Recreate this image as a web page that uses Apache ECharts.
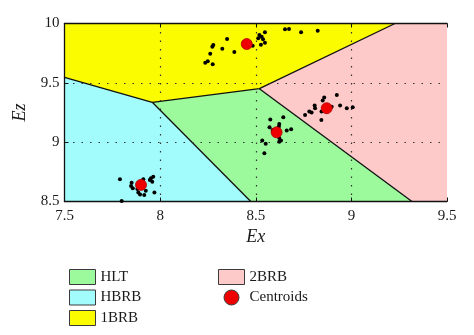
<!DOCTYPE html>
<html>
<head>
<meta charset="utf-8">
<script src="https://cdn.jsdelivr.net/npm/echarts@6/dist/echarts.min.js"></script>
<style>
html, body { margin: 0; padding: 0; background: #ffffff; }
#chart { width: 474px; height: 335px; }
</style>
</head>
<body>
<div id="chart"></div>
<script>
// Axis ranges and ticks
const xTicks = [7.5, 8, 8.5, 9, 9.5];
const yTicks = [8.5, 9, 9.5, 10];

// Decision regions (polygon vertices in Ex/Ez units)
const regionHLT  = [[7.959, 9.336], [8.519, 9.451], [9.317, 8.5], [8.474, 8.5]];
const regionHBRB = [[7.5, 9.547], [7.959, 9.336], [8.474, 8.5], [7.5, 8.5]];
const region1BRB = [[7.5, 10], [9.228, 10], [8.519, 9.451], [7.959, 9.336], [7.5, 9.547]];
const region2BRB = [[8.519, 9.451], [9.228, 10], [9.5, 10], [9.5, 8.5], [9.317, 8.5]];

// Region borders
const borderUpper = [[7.5, 9.547], [7.959, 9.336], [8.519, 9.451], [9.228, 10]];
const borderLeft  = [[7.959, 9.336], [8.474, 8.5]];
const borderRight = [[8.519, 9.451], [9.317, 8.5]];

// Measured samples
const samples1BRB = [
  [8.653, 9.951], [8.674, 9.954], [8.737, 9.926], [8.824, 9.939], [8.548, 9.926],
  [8.519, 9.903], [8.531, 9.889], [8.513, 9.875], [8.538, 9.867], [8.548, 9.838],
  [8.527, 9.821], [8.484, 9.813], [8.350, 9.869], [8.278, 9.819], [8.273, 9.805],
  [8.325, 9.788], [8.388, 9.760], [8.262, 9.746], [8.249, 9.682], [8.236, 9.670],
  [8.275, 9.656]
];
const samplesHBRB = [
  [7.790, 8.687], [7.799, 8.505], [7.851, 8.659], [7.848, 8.631], [7.857, 8.612],
  [7.881, 8.606], [7.886, 8.575], [7.895, 8.558], [7.917, 8.555], [7.925, 8.591],
  [7.952, 8.696], [7.964, 8.709], [7.959, 8.667], [7.946, 8.682], [7.970, 8.575],
  [7.912, 8.687]
];
const samplesHLT = [
  [8.576, 9.191], [8.644, 9.210], [8.623, 9.153], [8.621, 9.132], [8.572, 9.126],
  [8.588, 9.103], [8.662, 9.099], [8.685, 9.109], [8.623, 9.035], [8.632, 9.014],
  [8.623, 9.004], [8.534, 9.013], [8.552, 8.987], [8.545, 8.906]
];
const samples2BRB = [
  [8.924, 9.398], [8.858, 9.377], [8.850, 9.351], [8.808, 9.309], [8.810, 9.286],
  [8.780, 9.259], [8.792, 9.249], [8.758, 9.229], [8.843, 9.187], [8.844, 9.259],
  [8.897, 9.299], [8.941, 9.308], [8.976, 9.286], [9.007, 9.294]
];

// Cluster centroids
const centroids = [[8.453, 9.827], [7.900, 8.640], [8.609, 9.083], [8.871, 9.286]];

const serif = 'Liberation Serif';
const ink = '#1a1a1a';

function regionSeries(name, pts, color) {
  return {
    type: 'custom',
    name: name,
    coordinateSystem: 'cartesian2d',
    xAxisIndex: 0,
    yAxisIndex: 0,
    silent: true,
    z: 1,
    itemStyle: { color: color },
    data: [pts[0]],
    renderItem: function (params, api) {
      return {
        type: 'polygon',
        shape: { points: pts.map(function (p) { return api.coord(p); }) },
        style: { fill: color }
      };
    }
  };
}

function borderSeries(pts) {
  return {
    type: 'line',
    data: pts,
    showSymbol: false,
    silent: true,
    z: 2,
    lineStyle: { color: '#111', width: 1.3 }
  };
}

const chart = echarts.init(document.getElementById('chart'));

const commonX = {
  type: 'value',
  min: xTicks[0],
  max: xTicks[xTicks.length - 1],
  interval: 0.5
};

const legendText = { fontFamily: serif, fontSize: 15, color: ink, lineHeight: 15 };

chart.setOption({
  animation: false,
  grid: { left: 64.5, right: 27, top: 23.5, bottom: 133.5 },
  xAxis: [
    Object.assign({}, commonX, {
      position: 'bottom',
      z: 5,
      name: 'Ex',
      nameLocation: 'middle',
      nameGap: 27,
      nameTextStyle: { fontFamily: serif, fontStyle: 'italic', fontSize: 18, color: ink },
      axisLine: { show: true, lineStyle: { color: '#111', width: 1.3 } },
      axisTick: { show: true, inside: true, length: 4, lineStyle: { color: '#111' } },
      axisLabel: { fontFamily: serif, fontSize: 15, color: ink, margin: 7 },
      splitLine: {
        show: true, showMinLine: false, showMaxLine: false,
        lineStyle: { color: '#333', width: 1.2, type: [1.5, 7] }
      }
    }),
    Object.assign({}, commonX, {
      position: 'top',
      z: 5,
      axisLine: { show: true, lineStyle: { color: '#111', width: 1.3 } },
      axisTick: { show: true, inside: true, length: 4, lineStyle: { color: '#111' } },
      axisLabel: { show: false },
      splitLine: { show: false }
    })
  ],
  yAxis: {
    type: 'value',
    min: yTicks[0],
    max: yTicks[yTicks.length - 1],
    interval: 0.5,
    z: 5,
    name: 'Ez',
    nameLocation: 'middle',
    nameGap: 35,
    nameTextStyle: { fontFamily: serif, fontStyle: 'italic', fontSize: 18, color: ink },
    axisLine: { show: true, lineStyle: { color: '#111', width: 1.3 } },
    axisTick: { show: true, inside: true, length: 4, lineStyle: { color: '#111' } },
    axisLabel: { fontFamily: serif, fontSize: 15, color: ink, margin: 5 },
    splitLine: {
      show: true, showMinLine: false, showMaxLine: false,
      lineStyle: { color: '#333', width: 1.2, type: [1.5, 7] }
    }
  },
  legend: [
    {
      orient: 'vertical',
      left: 64,
      top: 264,
      itemWidth: 26,
      itemHeight: 15,
      itemGap: 4.5,
      selectedMode: false,
      textStyle: legendText,
      itemStyle: { borderColor: '#3a3a3a', borderWidth: 1 },
      data: [
        { name: 'HLT', icon: 'rect' },
        { name: 'HBRB', icon: 'rect' },
        { name: '1BRB', icon: 'rect' }
      ]
    },
    {
      orient: 'vertical',
      left: 213,
      top: 264,
      itemWidth: 26,
      itemHeight: 15,
      itemGap: 4.5,
      selectedMode: false,
      textStyle: legendText,
      itemStyle: { borderColor: '#3a3a3a', borderWidth: 1 },
      data: [
        { name: '2BRB', icon: 'rect' },
        { name: 'Centroids', icon: 'circle' }
      ]
    }
  ],
  series: [
    regionSeries('HLT', regionHLT, '#9cf99c'),
    regionSeries('HBRB', regionHBRB, '#a2fcfc'),
    regionSeries('1BRB', region1BRB, '#fcfc00'),
    regionSeries('2BRB', region2BRB, '#fdc9c9'),
    borderSeries(borderUpper),
    borderSeries(borderLeft),
    borderSeries(borderRight),
    {
      type: 'scatter',
      name: 'samples',
      data: samples1BRB.concat(samplesHBRB, samplesHLT, samples2BRB),
      symbolSize: 4,
      z: 10,
      silent: true,
      itemStyle: { color: '#000', opacity: 1 }
    },
    {
      type: 'scatter',
      name: 'Centroids',
      data: centroids,
      symbolSize: 11,
      z: 11,
      silent: true,
      itemStyle: { color: '#ee0000', opacity: 1, borderColor: '#b00000', borderWidth: 0.8 }
    }
  ]
});
</script>
</body>
</html>
